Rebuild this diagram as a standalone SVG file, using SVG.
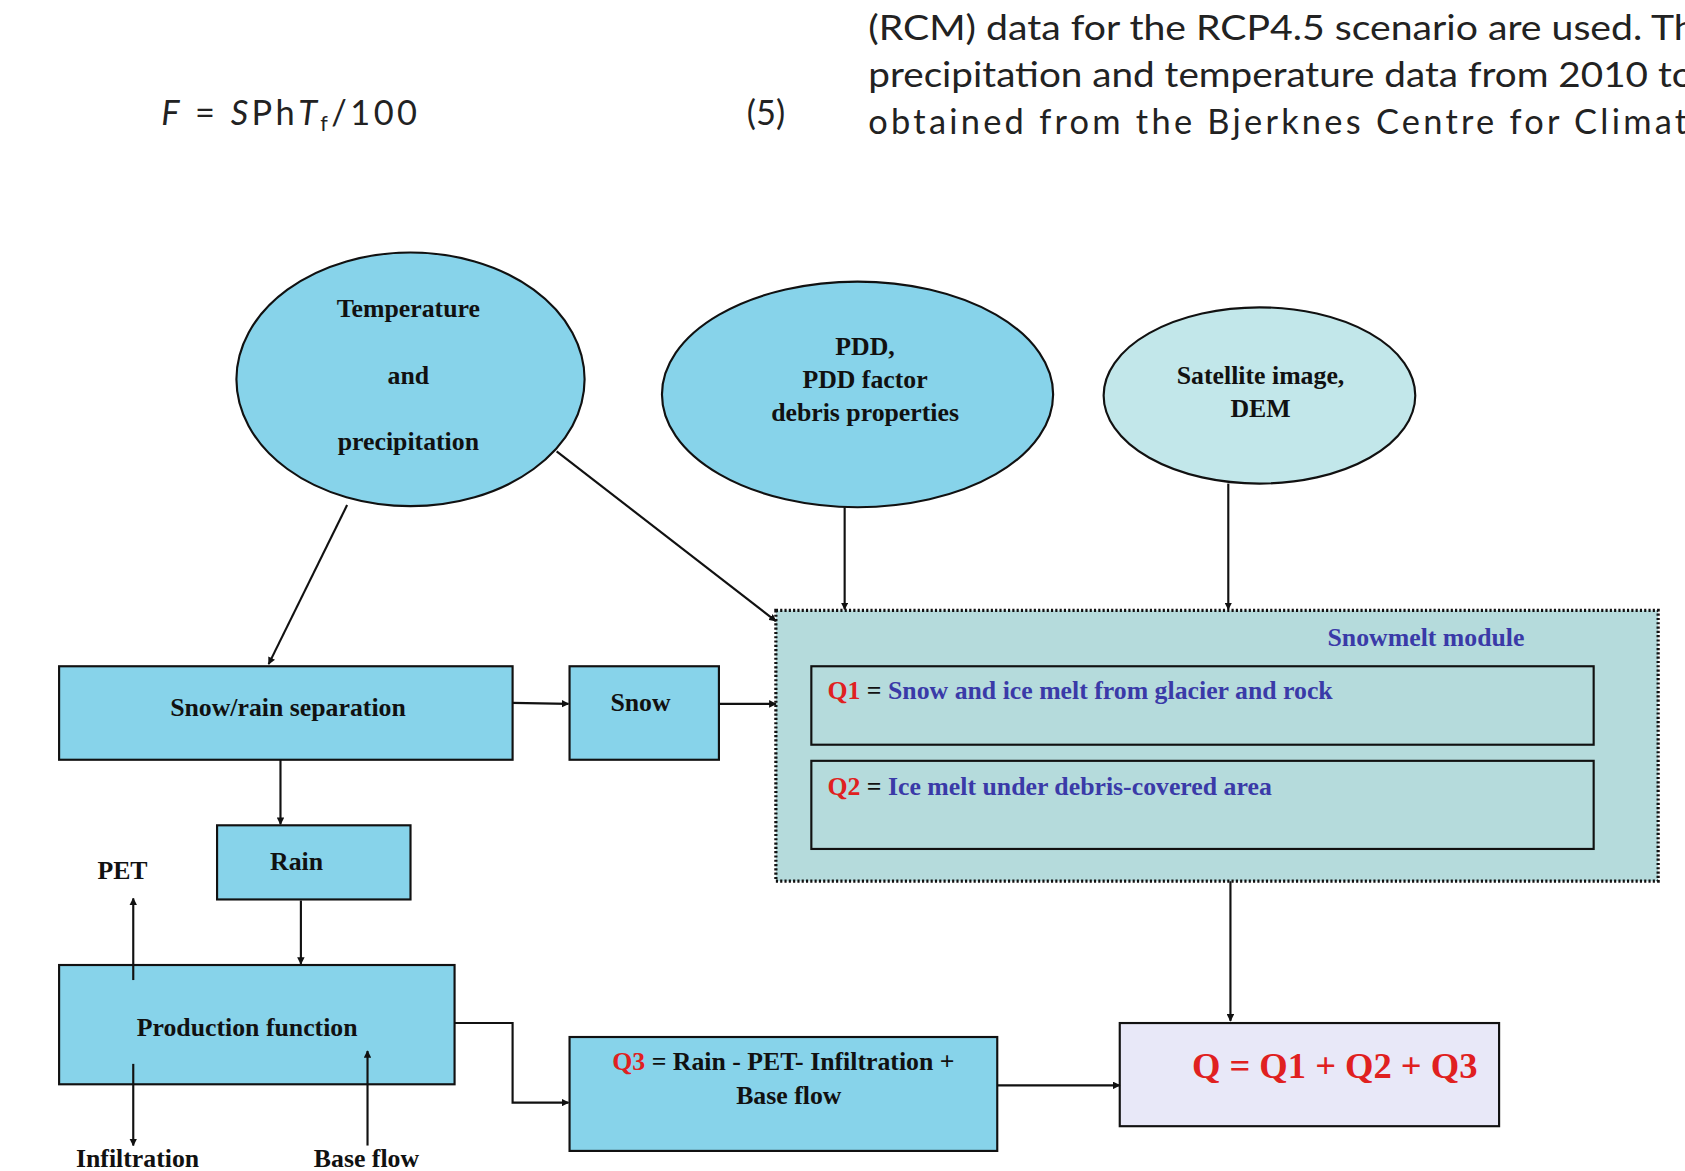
<svg xmlns="http://www.w3.org/2000/svg" width="1685" height="1171" viewBox="0 0 1685 1171">
<style>
.hd{font-family:"Lato","Open Sans",sans-serif;font-size:32px;fill:#222}
.t{font-family:"Liberation Serif",serif;font-weight:bold;font-size:24px;fill:#111;text-anchor:middle}
.st{text-anchor:start}
.b{fill:#87d3ea;stroke:#111;stroke-width:2}
.c line,.c path{stroke:#111;stroke-width:2;fill:none;marker-end:url(#ah)}
.bl{fill:#3a3aa8}.rd{fill:#e02020}
</style>
<defs><marker id="ah" viewBox="0 0 10 10" refX="9" refY="5" markerWidth="7" markerHeight="7" orient="auto" markerUnits="userSpaceOnUse"><path d="M0,0L10,5L0,10z" fill="#111"/></marker></defs>
<rect width="1685" height="1171" fill="#fff"/>
<g transform="scale(1.07462)">
<g id="header">
<text class="hd" x="808" y="37" textLength="770" lengthAdjust="spacingAndGlyphs">(RCM) data for the RCP4.5 scenario are used. Th</text>
<text class="hd" x="808" y="81" textLength="768" lengthAdjust="spacingAndGlyphs">precipitation and temperature data from 2010 to</text>
<text class="hd" x="808" y="125" textLength="762" lengthAdjust="spacing">obtained from the Bjerknes Centre for Climat</text>
<text class="hd" x="150" y="116" textLength="238" lengthAdjust="spacing"><tspan font-style="italic">F</tspan> = <tspan font-style="italic">S</tspan>Ph<tspan font-style="italic">T</tspan><tspan font-size="20" dy="6">f</tspan><tspan dy="-6">/100</tspan></text>
<text class="hd" x="695" y="116">(5)</text>
</g>
<g id="temp"><ellipse class="b" cx="382" cy="353" rx="162" ry="118"/>
<text class="t" x="380" y="295">Temperature</text><text class="t" x="380" y="357">and</text><text class="t" x="380" y="419">precipitation</text></g>
<g id="pdd"><ellipse class="b" cx="798" cy="367" rx="182" ry="105"/>
<text class="t" x="805" y="330">PDD,</text><text class="t" x="805" y="361">PDD factor</text><text class="t" x="805" y="392">debris properties</text></g>
<g id="sat"><ellipse cx="1172" cy="368" rx="145" ry="82" fill="#c2e7ea" stroke="#111" stroke-width="2"/>
<text class="t" x="1173" y="357">Satellite image,</text><text class="t" x="1173" y="388">DEM</text></g>
<g id="snowmelt"><rect x="722" y="568" width="821" height="252" fill="#b5dbdc" stroke="#111" stroke-width="3" stroke-dasharray="2,2"/>
<text class="t bl" x="1327" y="601">Snowmelt module</text></g>
<g id="q1"><rect x="755" y="620" width="728" height="73" fill="none" stroke="#111" stroke-width="2"/>
<text class="t st" x="770" y="650"><tspan class="rd">Q1</tspan> = <tspan class="bl">Snow and ice melt from glacier and rock</tspan></text></g>
<g id="q2"><rect x="755" y="708" width="728" height="82" fill="none" stroke="#111" stroke-width="2"/>
<text class="t st" x="770" y="740"><tspan class="rd">Q2</tspan> = <tspan class="bl">Ice melt under debris-covered area</tspan></text></g>
<g id="sep"><rect class="b" x="55" y="620" width="422" height="87"/><text class="t" x="268" y="666">Snow/rain separation</text></g>
<g id="snow"><rect class="b" x="530" y="620" width="139" height="87"/><text class="t" x="596" y="662">Snow</text></g>
<g id="rain"><rect class="b" x="202" y="768" width="180" height="69"/><text class="t" x="276" y="810">Rain</text></g>
<g id="prod"><rect class="b" x="55" y="898" width="368" height="111"/><text class="t" x="230" y="964">Production function</text></g>
<g id="q3"><rect class="b" x="530" y="965" width="398" height="106"/>
<text class="t" x="729" y="996"><tspan class="rd">Q3</tspan> = Rain - PET- Infiltration +</text><text class="t" x="734" y="1027">Base flow</text></g>
<g id="q"><rect x="1042" y="952" width="353" height="96" fill="#e8e8f8" stroke="#111" stroke-width="2"/>
<text class="t rd" x="1242" y="1003" style="font-size:34px">Q = Q1 + Q2 + Q3</text></g>
<g id="pet"><text class="t" x="114" y="818">PET</text></g>
<g id="infil"><text class="t" x="128" y="1086">Infiltration</text></g>
<g id="base"><text class="t" x="341" y="1086">Base flow</text></g>
<g id="connectors" class="c">
<line x1="323" y1="470" x2="250" y2="618"/>
<line x1="518" y1="420" x2="722" y2="578"/>
<line x1="786" y1="472" x2="786" y2="567"/>
<line x1="1143" y1="450" x2="1143" y2="567"/>
<line x1="477" y1="654" x2="529" y2="655"/>
<line x1="669" y1="655" x2="722" y2="655"/>
<line x1="261" y1="707" x2="261" y2="767"/>
<line x1="280" y1="838" x2="280" y2="897"/>
<line x1="124" y1="912" x2="124" y2="836"/>
<line x1="124" y1="990" x2="124" y2="1066"/>
<line x1="342" y1="1066" x2="342" y2="978"/>
<path d="M423,952H477V1026H529"/>
<line x1="928" y1="1010" x2="1042" y2="1010"/>
<line x1="1145" y1="820" x2="1145" y2="950"/>
</g>
</g>
</svg>
